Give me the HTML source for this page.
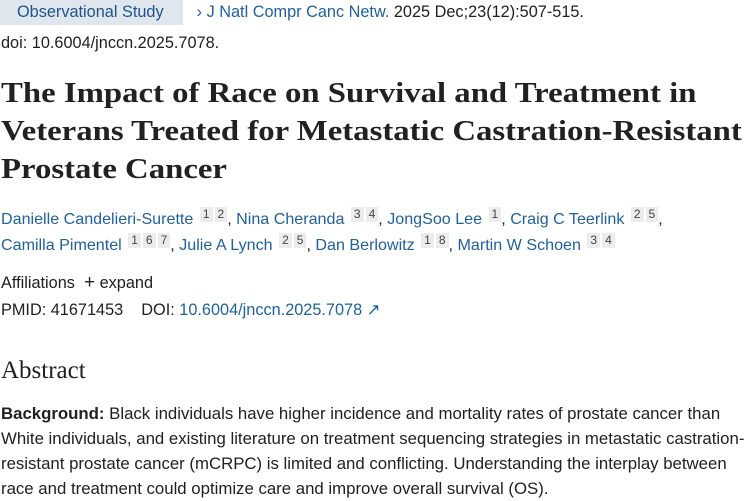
<!DOCTYPE html>
<html><head><meta charset="utf-8"><style>
body{margin:0;width:750px;height:500px;overflow:hidden;background:#fff;font-family:"Liberation Sans",sans-serif;color:#212121;}
.l{position:absolute;white-space:nowrap;}
.a{color:#20619e;}
.tag{background:#dfe6ee;color:#20558a;padding:3px 19px 4px 17px;}
h1{position:absolute;left:1px;top:74px;margin:0;font-family:"Liberation Serif",serif;font-weight:bold;font-size:29px;line-height:38px;color:#212121;transform:scaleX(1.13);transform-origin:0 0;white-space:nowrap;}
.s{display:inline-block;background:#ececec;color:#444;font-size:12px;padding:0 3px;margin-left:2px;vertical-align:6px;line-height:15px;}
.b{font-size:16.3px;}
</style></head><body>
<div class="l b" style="left:0;top:3px;"><span class="tag">Observational Study</span><span class="a" style="margin-left:14px;">&#8250; J Natl Compr Canc Netw.</span> 2025 Dec;23(12):507-515.</div>
<div class="l b" style="left:1px;top:34px;">doi: 10.6004/jnccn.2025.7078.</div>
<h1>The Impact of Race on Survival and Treatment in<br>Veterans Treated for Metastatic Castration-Resistant<br>Prostate Cancer</h1>
<div class="l" style="left:1px;top:207px;font-size:16.1px;"><span class="a">Danielle Candelieri-Surette <span class="s">1</span><span class="s">2</span></span>, <span class="a">Nina Cheranda <span class="s">3</span><span class="s">4</span></span>, <span class="a">JongSoo Lee <span class="s">1</span></span>, <span class="a">Craig C Teerlink <span class="s">2</span><span class="s">5</span></span>,</div>
<div class="l" style="left:1px;top:233px;font-size:16.1px;"><span class="a">Camilla Pimentel <span class="s">1</span><span class="s">6</span><span class="s">7</span></span>, <span class="a">Julie A Lynch <span class="s">2</span><span class="s">5</span></span>, <span class="a">Dan Berlowitz <span class="s">1</span><span class="s">8</span></span>, <span class="a">Martin W Schoen <span class="s">3</span><span class="s">4</span></span></div>
<div class="l b" style="left:1px;top:272px;">Affiliations &nbsp;<b style="font-size:19px;font-weight:normal">+</b> expand</div>
<div class="l b" style="left:1px;top:300px;">PMID: 41671453 &nbsp;&nbsp;&nbsp;DOI: <span class="a">10.6004/jnccn.2025.7078 &#8599;</span></div>
<div class="l" style="left:1px;top:357px;font-family:'Liberation Serif',serif;font-size:25px;">Abstract</div>
<div class="l" style="left:1px;top:401px;line-height:25px;font-size:16.8px;">
<b>Background:</b> Black individuals have higher incidence and mortality rates of prostate cancer than<br>
White individuals, and existing literature on treatment sequencing strategies in metastatic castration-<br>
resistant prostate cancer (mCRPC) is limited and conflicting. Understanding the interplay between<br>
race and treatment could optimize care and improve overall survival (OS).</div>
</body></html>
